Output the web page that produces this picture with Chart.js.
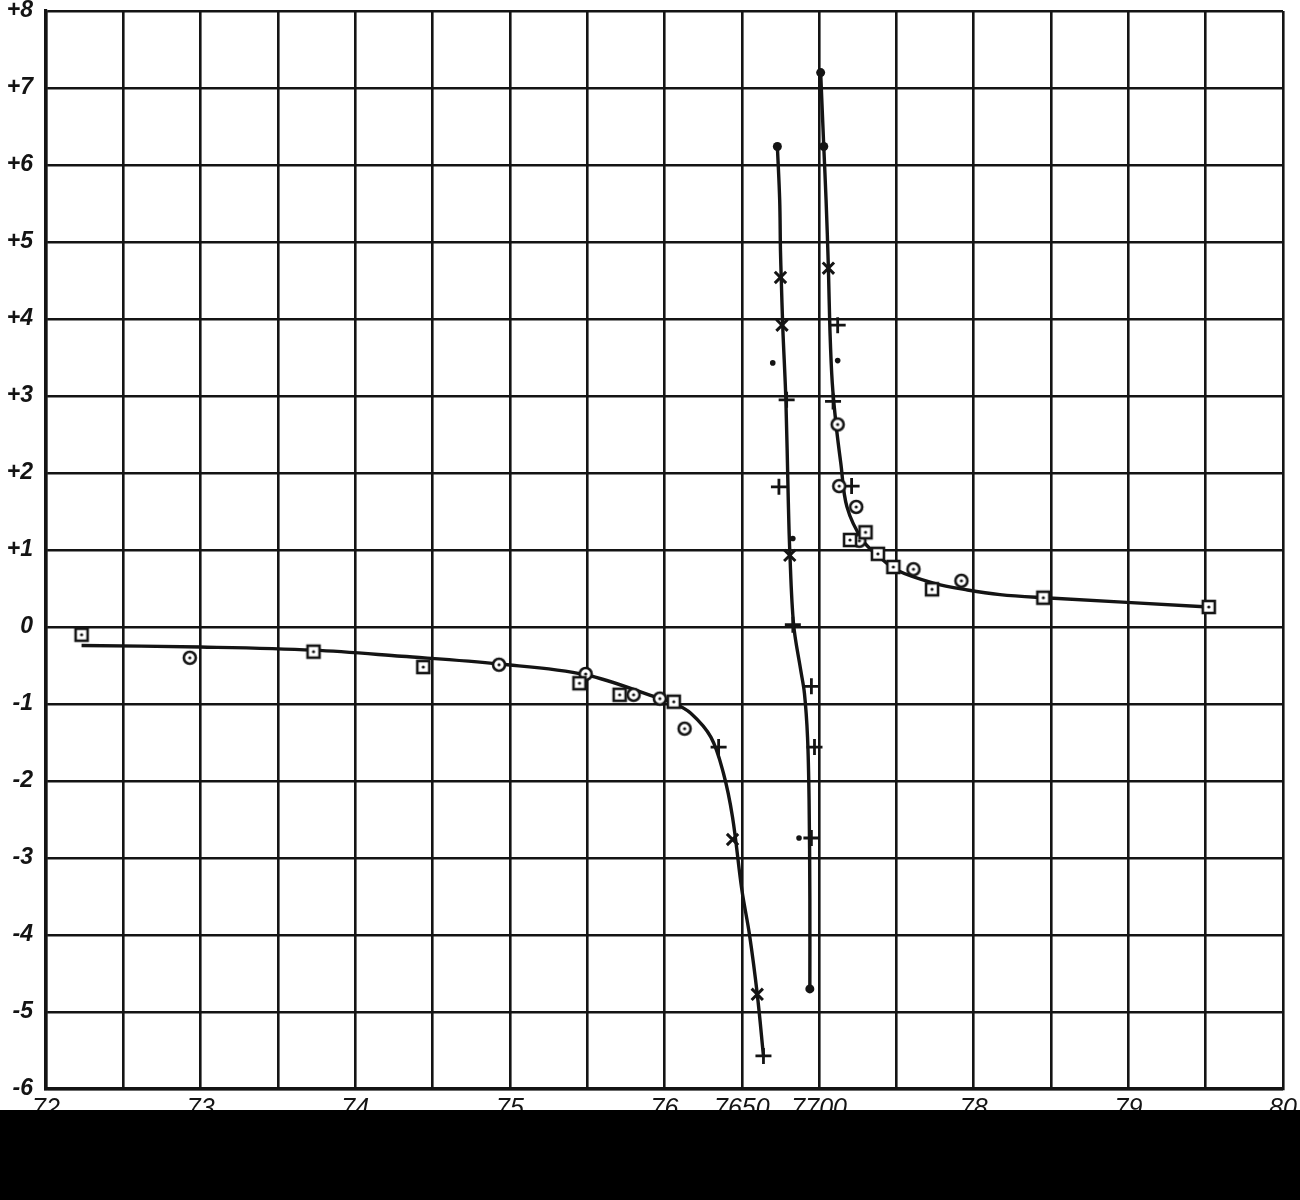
<!DOCTYPE html>
<html>
<head>
<meta charset="utf-8">
<script src="https://cdn.jsdelivr.net/npm/chart.js@4/dist/chart.umd.min.js"></script>
<style>
  body { margin: 0; background: #fff; }
  #graph { display: block; }
  #band { height: 90px; background: #000; }
</style>
</head>
<body>
<canvas id="graph" width="1300" height="1110"></canvas>
<div id="band"></div>
<script>
// Axis ticks
const xTickValues = [72, 73, 74, 75, 76, 76.5, 77, 78, 79, 80];
const xTickText = ['72', '73', '74', '75', '76', '7650', '7700', '78', '79', '80'];
const yTickValues = [8, 7, 6, 5, 4, 3, 2, 1, 0, -1, -2, -3, -4, -5, -6];
const yTickText = ['+8', '+7', '+6', '+5', '+4', '+3', '+2', '+1', '0', '-1', '-2', '-3', '-4', '-5', '-6'];

// Drawn curves
const leftCurveX = [72.23, 73.0, 73.73, 74.3, 74.93, 75.49, 75.97, 76.06, 76.17, 76.30, 76.38, 76.44, 76.50, 76.55, 76.60, 76.64];
const leftCurveY = [-0.24, -0.26, -0.30, -0.38, -0.48, -0.62, -0.93, -0.99, -1.12, -1.43, -1.89, -2.47, -3.41, -4.00, -4.77, -5.57];
const midCurveX = [76.73, 76.745, 76.75, 76.755, 76.765, 76.785, 76.80, 76.81, 76.835, 76.88, 76.905, 76.925, 76.935, 76.94, 76.94];
const midCurveY = [6.24, 5.54, 4.89, 4.53, 3.89, 2.95, 1.69, 1.00, 0.03, -0.55, -0.86, -1.43, -2.24, -3.54, -4.70];
const rightCurveX = [77.01, 77.03, 77.045, 77.06, 77.07, 77.085, 77.11, 77.14, 77.18, 77.28, 77.39, 77.50, 77.74, 77.96, 78.17, 78.46, 79.52];
const rightCurveY = [7.20, 6.24, 5.54, 4.66, 3.85, 3.17, 2.62, 2.13, 1.56, 1.13, 0.91, 0.74, 0.57, 0.48, 0.42, 0.38, 0.26];

// Observed points
const squareX = [72.23, 73.73, 74.44, 75.45, 75.71, 76.06, 77.20, 77.30, 77.38, 77.48, 77.73, 78.45, 79.52];
const squareY = [-0.10, -0.32, -0.52, -0.73, -0.88, -0.97, 1.13, 1.23, 0.95, 0.78, 0.49, 0.38, 0.26];
const circleX = [72.93, 74.93, 75.49, 75.80, 75.97, 76.13, 77.12, 77.13, 77.24, 77.26, 77.61, 77.92];
const circleY = [-0.40, -0.49, -0.61, -0.88, -0.93, -1.32, 2.63, 1.83, 1.56, 1.12, 0.75, 0.60];
const crossX = [76.44, 76.60, 76.75, 76.76, 76.81, 77.06];
const crossY = [-2.76, -4.77, 4.54, 3.92, 0.93, 4.66];
const plusX = [76.35, 76.64, 76.79, 76.74, 76.83, 76.95, 76.97, 76.95, 77.12, 77.09, 77.21];
const plusY = [-1.56, -5.57, 2.95, 1.82, 0.03, -0.77, -1.56, -2.74, 3.92, 2.93, 1.83];
const dotX = [76.70, 77.12, 76.83, 76.87];
const dotY = [3.43, 3.46, 1.15, -2.74];
const endDotX = [76.73, 77.03, 77.01, 76.94];
const endDotY = [6.24, 6.24, 7.20, -4.70];

const ink = '#141414';

function toPoints(xs, ys) {
  return xs.map((x, i) => ({ x: x, y: ys[i] }));
}

// marker images: square and circle with a dot inside
function makeMarker(kind) {
  const c = document.createElement('canvas');
  c.width = 18;
  c.height = 18;
  const g = c.getContext('2d');
  g.fillStyle = '#fff';
  g.strokeStyle = ink;
  g.lineWidth = 2.6;
  if (kind === 'square') {
    g.fillRect(3, 3, 12, 12);
    g.strokeRect(3, 3, 12, 12);
  } else {
    g.beginPath();
    g.arc(9, 9, 6, 0, Math.PI * 2);
    g.fill();
    g.stroke();
  }
  g.fillStyle = ink;
  g.beginPath();
  g.arc(9, 9, 1.6, 0, Math.PI * 2);
  g.fill();
  return c;
}

function curve(xs, ys) {
  return {
    data: toPoints(xs, ys),
    showLine: true,
    borderColor: ink,
    borderWidth: 3.4,
    pointRadius: 0,
    tension: 0.35,
    order: 1,
  };
}

function marks(xs, ys, style, radius, width, fill) {
  return {
    data: toPoints(xs, ys),
    showLine: false,
    pointStyle: style,
    pointRadius: radius,
    pointBorderWidth: width,
    pointBorderColor: ink,
    pointBackgroundColor: fill,
    order: 0,
  };
}

function findIndex(list, v) {
  return list.findIndex((t) => Math.abs(t - v) < 1e-6);
}

function noEdgePadding(scale) {
  scale.paddingTop = 0;
  scale.paddingBottom = 0;
  scale.paddingLeft = 0;
  scale.paddingRight = 0;
}

const ctx = document.getElementById('graph').getContext('2d');
const chart = new Chart(ctx, {
  type: 'scatter',
  data: {
    datasets: [
      marks(squareX, squareY, makeMarker('square'), 7, 0, '#fff'),
      marks(circleX, circleY, makeMarker('circle'), 7, 0, '#fff'),
      marks(crossX, crossY, 'crossRot', 8, 3, ink),
      marks(plusX, plusY, 'cross', 8, 2.8, ink),
      marks(dotX, dotY, 'circle', 2.8, 0, ink),
      marks(endDotX, endDotY, 'circle', 4.5, 0, ink),
      curve(leftCurveX, leftCurveY),
      curve(midCurveX, midCurveY),
      curve(rightCurveX, rightCurveY),
    ],
  },
  options: {
    responsive: false,
    animation: false,
    layout: { padding: { left: 0, top: 10, right: 17, bottom: 0 } },
    plugins: {
      legend: { display: false },
      tooltip: { enabled: false },
    },
    scales: {
      x: {
        type: 'linear',
        min: 72,
        max: 80,
        afterFit: (scale) => { scale.height = 21; noEdgePadding(scale); },
        border: { display: true, color: ink, width: 3.2 },
        grid: { color: ink, lineWidth: 2.6, drawTicks: false },
        ticks: {
          stepSize: 0.5,
          autoSkip: false,
          maxRotation: 0,
          padding: 5,
          color: ink,
          font: { family: '"Liberation Sans", "DejaVu Sans", sans-serif', size: 25, style: 'italic' },
          callback: (value) => {
            const i = findIndex(xTickValues, value);
            return i >= 0 ? xTickText[i] : '';
          },
        },
      },
      y: {
        type: 'linear',
        min: -6,
        max: 8,
        afterFit: (scale) => { scale.width = 46; noEdgePadding(scale); },
        border: { display: true, color: ink, width: 3.2 },
        grid: { color: ink, lineWidth: 2.6, drawTicks: false },
        ticks: {
          stepSize: 1,
          padding: 13,
          color: ink,
          font: { family: '"Liberation Sans", "DejaVu Sans", sans-serif', size: 23, style: 'italic', weight: 'bold' },
          callback: (value) => {
            const i = findIndex(yTickValues, value);
            return i >= 0 ? yTickText[i] : '';
          },
        },
      },
    },
  },
});
</script>
</body>
</html>
